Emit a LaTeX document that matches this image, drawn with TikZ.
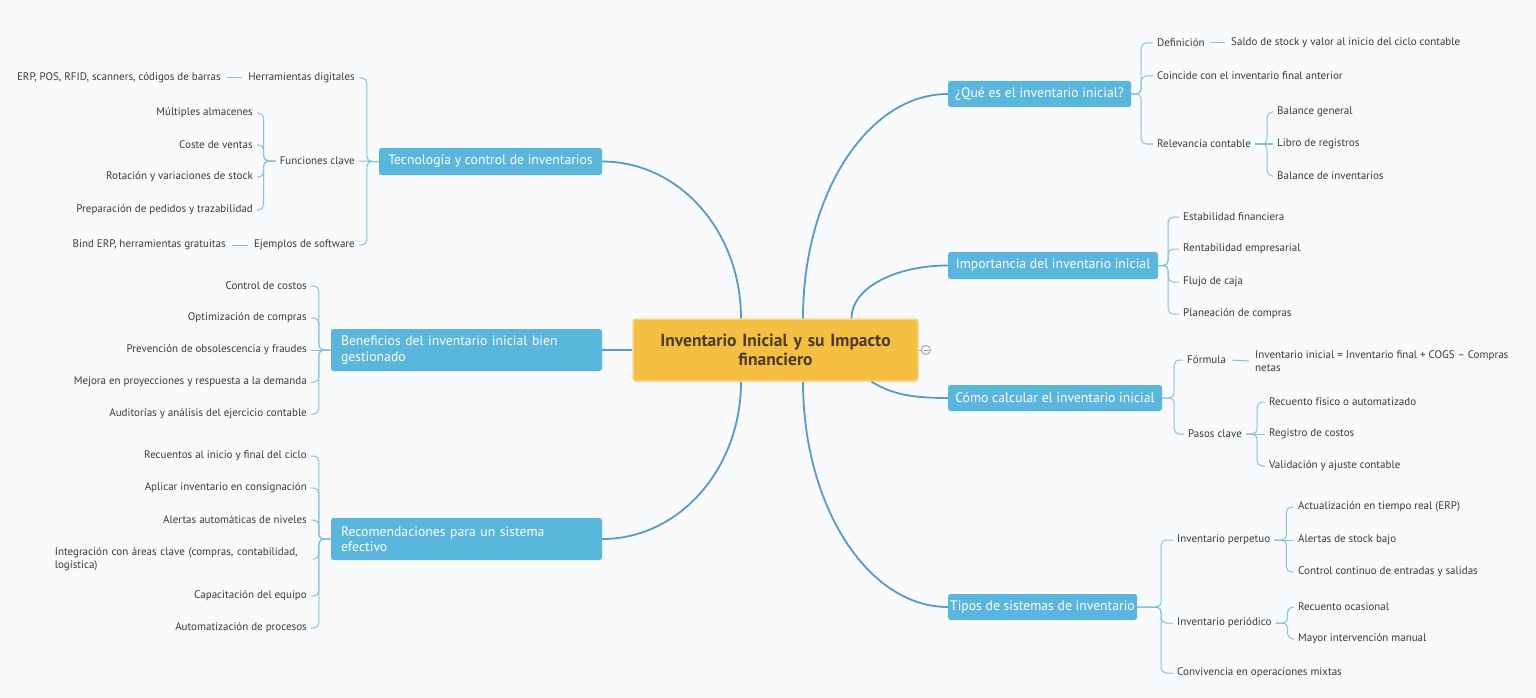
\documentclass[tikz,border=0pt]{standalone}
\usepackage{fontspec}
\setmainfont{PT Sans}
\definecolor{bgc}{HTML}{F8FAFB}
\definecolor{mainblue}{HTML}{5BB6DD}
\definecolor{linec}{HTML}{5A9BBD}
\definecolor{subc}{HTML}{86C2D8}
\definecolor{ctrfill}{HTML}{F5C041}
\definecolor{ctrdraw}{HTML}{F9D690}
\definecolor{ctrtext}{HTML}{4A3B22}
\definecolor{leafc}{HTML}{3A3A3A}
\begin{document}
\begin{tikzpicture}[x=1pt,y=-1pt,
  leaf/.style={font=\fontsize{11}{12.5}\selectfont, text=leafc, inner xsep=4pt, inner ysep=1pt},
  leafE/.style={leaf, anchor=east},
  leafW/.style={leaf, anchor=west},
  mainnode/.style={fill=mainblue, rounded corners=2.5pt, text=white, font=\fontsize{13.7}{15.5}\selectfont, inner sep=0pt},
  twoline/.style={mainnode, text width=251pt, align=left, inner xsep=10pt, minimum height=42pt},
  conn/.style={draw=linec, line width=1.8pt},
  sub/.style={draw=subc, line width=1pt, rounded corners=5pt},
  subs/.style={draw=subc, line width=1pt, shorten <=2pt, shorten >=2pt}]
\useasboundingbox (0,0) rectangle (1536,698);
\fill[bgc] (0,0) rectangle (1536,698);

% central
\node (ctr) [fill=ctrfill, draw=ctrdraw, line width=1.5pt, rounded corners=3pt, minimum width=285pt, minimum height=62pt, text width=270pt, align=center, text=ctrtext, font=\fontsize{17.5}{19}\selectfont\bfseries, inner sep=0pt] at (775.5,350) {Inventario Inicial y su Impacto\\financiero};
\node (col) [circle, draw=gray!80, line width=0.8pt, minimum size=9pt, inner sep=0pt, fill=bgc] at (926,350) {};
\draw[gray!80, line width=0.8pt] (ctr.east) -- (col.west);
\draw[gray!80, line width=0.8pt] ([xshift=-2.5pt]col.center) -- ([xshift=2.5pt]col.center);

% main branches
\node (tec) [mainnode, minimum width=223pt, minimum height=27pt] at (490.5,161.5) {Tecnología y control de inventarios};
\node (ben) [twoline] at (466.5,350) {Beneficios del inventario inicial bien\\gestionado};
\node (rec) [twoline] at (466.5,539) {Recomendaciones para un sistema\\efectivo};
\node (que) [mainnode, minimum width=183pt, minimum height=26pt] at (1039.5,94) {¿Qué es el inventario inicial?};
\node (imp) [mainnode, minimum width=210pt, minimum height=27pt] at (1053,265.5) {Importancia del inventario inicial};
\node (com) [mainnode, minimum width=214pt, minimum height=26pt] at (1055,398) {Cómo calcular el inventario inicial};
\node (tip) [mainnode, minimum width=189pt, minimum height=26pt] at (1042.5,607) {Tipos de sistemas de inventario};

\draw[conn] (tec.east) .. controls +(77,0) and +(0,-87) .. ([xshift=-34.5pt]ctr.north);
\draw[conn] (ben.east) -- (ctr.west);
\draw[conn] (rec.east) .. controls +(77,0) and +(0,87) .. ([xshift=-34.5pt]ctr.south);
\draw[conn] (que.west) .. controls +(-80,0) and +(0,-124) .. ([xshift=27.5pt]ctr.north);
\draw[conn] (imp.west) .. controls +(-53,0) and +(0,-30) .. ([xshift=76pt]ctr.north);
\draw[conn] (com.west) .. controls +(-38,0) and +(20,12) .. ([xshift=96pt]ctr.south);
\draw[conn] (tip.west) .. controls +(-80,0) and +(0,124) .. ([xshift=27.5pt]ctr.south);

% Tecnologia
\node (ha) [leafE] at (359,78) {Herramientas digitales};
\node (fc) [leafE] at (359,161) {Funciones clave};
\node (ej) [leafE] at (359,245) {Ejemplos de software};
\node (erp) [leafE] at (225,78) {ERP, POS, RFID, scanners, códigos de barras};
\node (bind) [leafE] at (230,245) {Bind ERP, herramientas gratuitas};
\node (ma) [leafE] at (257,113) {Múltiples almacenes};
\node (cv) [leafE] at (257,145) {Coste de ventas};
\node (rv) [leafE] at (257,177) {Rotación y variaciones de stock};
\node (pp) [leafE] at (257,210) {Preparación de pedidos y trazabilidad};
\draw[sub] (tec.west) -- (fc.east);
\foreach \c in {ha,ej} \draw[sub] (tec.west) -- ++(-12,0) |- (\c.east);
\draw[subs] (ha.west) -- (erp.east);
\draw[subs] (ej.west) -- (bind.east);
\foreach \c in {ma,cv,rv,pp} \draw[sub] (fc.west) -- ++(-12,0) |- (\c.east);

% Beneficios
\node (b1) [leafE] at (311,286) {Control de costos};
\node (b2) [leafE] at (311,318) {Optimización de compras};
\node (b3) [leafE] at (311,350) {Prevención de obsolescencia y fraudes};
\node (b4) [leafE] at (311,382) {Mejora en proyecciones y respuesta a la demanda};
\node (b5) [leafE] at (311,414) {Auditorías y análisis del ejercicio contable};
\draw[sub] (ben.west) -- (b3.east);
\foreach \c in {b1,b2,b4,b5} \draw[sub] (ben.west) -- ++(-12,0) |- (\c.east);

% Recomendaciones
\node (r1) [leafE] at (311,456) {Recuentos al inicio y final del ciclo};
\node (r2) [leafE] at (311,488) {Aplicar inventario en consignación};
\node (r3) [leafE] at (311,520) {Alertas automáticas de niveles};
\node (r4) [leaf, anchor=east, text width=254pt, align=left] at (313,559) {Integración con áreas clave (compras, contabilidad,\\logística)};
\node (r5) [leafE] at (311,596) {Capacitación del equipo};
\node (r6) [leafE] at (311,628) {Automatización de procesos};
\foreach \c in {r1,r2,r3,r4,r5,r6} \draw[sub] (rec.west) -- ++(-12,0) |- (\c.east);

% Que es
\node (def) [leafW] at (1153,43) {Definición};
\node (coi) [leafW] at (1153,76) {Coincide con el inventario final anterior};
\node (rel) [leafW] at (1153,144) {Relevancia contable};
\node (sal) [leafW] at (1227,43) {Saldo de stock y valor al inicio del ciclo contable};
\node (bg) [leafW] at (1273,112) {Balance general};
\node (lr) [leafW] at (1273,144) {Libro de registros};
\node (bi) [leafW] at (1273,176) {Balance de inventarios};
\foreach \c in {def,coi,rel} \draw[sub] (que.east) -- ++(10,0) |- (\c.west);
\draw[subs] (def.east) -- (sal.west);
\draw[sub] (rel.east) -- (lr.west);
\foreach \c in {bg,bi} \draw[sub] (rel.east) -- ++(12,0) |- (\c.west);

% Importancia
\node (i1) [leafW] at (1179,217) {Estabilidad financiera};
\node (i2) [leafW] at (1179,249) {Rentabilidad empresarial};
\node (i3) [leafW] at (1179,282) {Flujo de caja};
\node (i4) [leafW] at (1179,314) {Planeación de compras};
\foreach \c in {i1,i2,i3,i4} \draw[sub] (imp.east) -- ++(10,0) |- (\c.west);

% Como calcular
\node (fo) [leafW] at (1183,360) {Fórmula};
\node (form) [leafW, align=left] at (1251,361) {Inventario inicial = Inventario final + COGS – Compras\\netas};
\node (pc) [leafW] at (1184,434) {Pasos clave};
\node (p1) [leafW] at (1265,402) {Recuento físico o automatizado};
\node (p2) [leafW] at (1265,434) {Registro de costos};
\node (p3) [leafW] at (1265,466) {Validación y ajuste contable};
\foreach \c in {fo,pc} \draw[sub] (com.east) -- ++(12,0) |- (\c.west);
\draw[subs] (fo.east) -- (form.west);
\draw[sub] (pc.east) -- (p2.west);
\foreach \c in {p1,p3} \draw[sub] (pc.east) -- ++(11,0) |- (\c.west);

% Tipos
\node (ipe) [leafW] at (1173,540) {Inventario perpetuo};
\node (ipd) [leafW] at (1173,623) {Inventario periódico};
\node (conv) [leafW] at (1173,673) {Convivencia en operaciones mixtas};
\node (t1) [leafW] at (1294,507) {Actualización en tiempo real (ERP)};
\node (t2) [leafW] at (1294,540) {Alertas de stock bajo};
\node (t3) [leafW] at (1294,572) {Control continuo de entradas y salidas};
\node (t4) [leafW] at (1294,607) {Recuento ocasional};
\node (t5) [leafW] at (1294,639) {Mayor intervención manual};
\foreach \c in {ipe,ipd,conv} \draw[sub] (tip.east) -- ++(24,0) |- (\c.west);
\draw[sub] (ipe.east) -- (t2.west);
\foreach \c in {t1,t3} \draw[sub] (ipe.east) -- ++(12,0) |- (\c.west);
\foreach \c in {t4,t5} \draw[sub] (ipd.east) -- ++(12,0) |- (\c.west);
\end{tikzpicture}
\end{document}
